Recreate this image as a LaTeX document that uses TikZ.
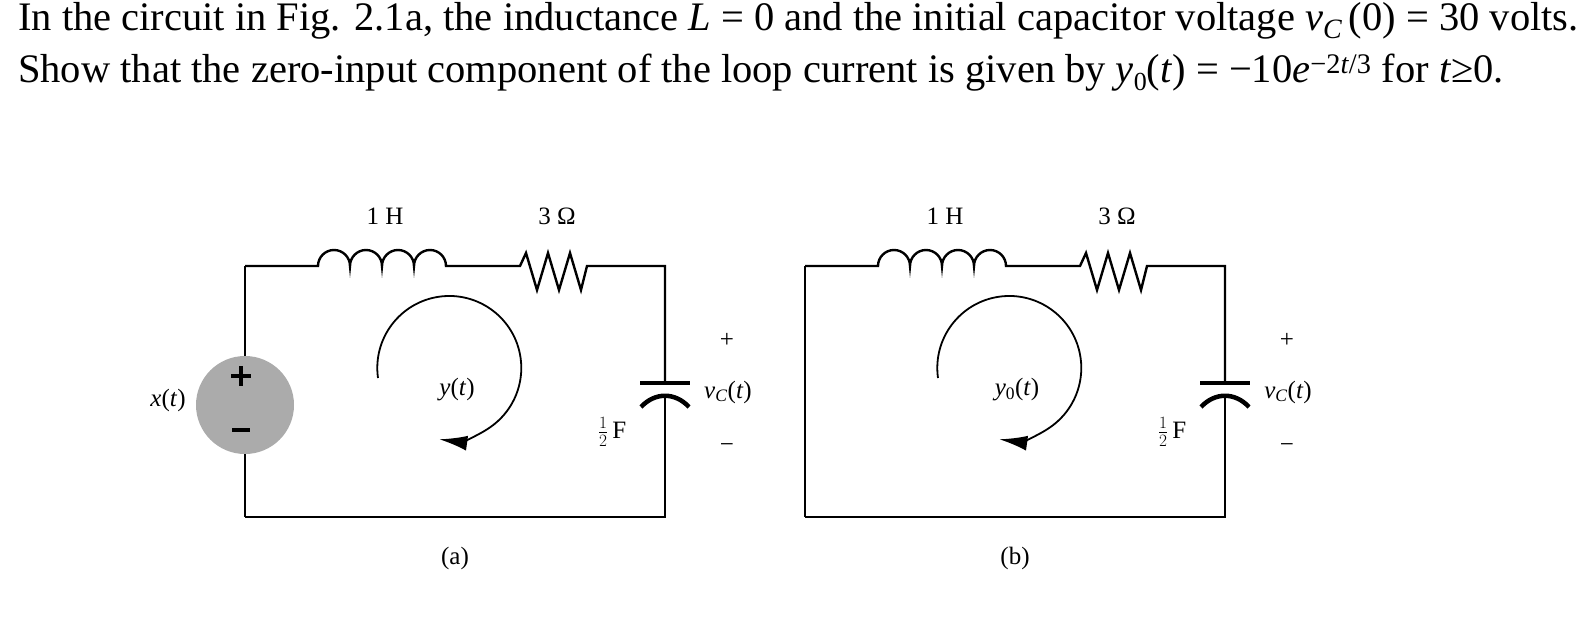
\documentclass[tikz,border=0pt]{standalone}
\usepackage{fontspec}
\setmainfont{Liberation Serif}
\usetikzlibrary{arrows.meta}
\begin{document}
\begin{tikzpicture}[x=1pt,y=-1pt,
  wire/.style={line width=2.4pt,line join=miter},
  lbl/.style={font=\fontsize{25}{29}\selectfont,inner sep=0pt},
  loop/.style={line width=1.8pt,-{Latex[length=28pt,width=15pt]}}]
\useasboundingbox (0,0) rectangle (1590,618);
\node[anchor=west,align=left,inner sep=0pt,font=\fontsize{40.5}{52}\selectfont] (title) at (18,47)
 {In the circuit in Fig. 2.1a, the inductance \textit{L} = 0 and the initial capacitor voltage \textit{v}\raisebox{-0.2em}{\fontsize{28}{30}\selectfont\textit{C}}\,(0) = 30 volts.\\
 Show that the zero-input component of the loop current is given by \textit{y}\raisebox{-0.2em}{\fontsize{26}{30}\selectfont 0}(\textit{t}) = −10\textit{e}\textsuperscript{−2\textit{t}/3} for \textit{t}≥0.};
\foreach \dx/\nm/\yl/\cap in {0/a/{\textit{y}(\textit{t})}/(a),560/b/{\textit{y}\textsubscript{0}(\textit{t})}/(b)}{
 \begin{scope}[xshift=\dx]
  \coordinate (\nm tl) at (245,266);
  \coordinate (\nm tr) at (665,266);
  \coordinate (\nm bl) at (245,517);
  \coordinate (\nm br) at (665,517);
  \coordinate (\nm ci) at (318,266);
  \coordinate (\nm ri) at (520,266);
  \coordinate (\nm ct) at (665,383);
  \coordinate (\nm cb) at (665,395);
  \draw[wire] (\nm tl) -- (\nm ci) arc(180:360:16) arc(180:360:16) arc(180:360:16) arc(180:360:16)
     -- (\nm ri) -- ++(6,-13) -- ++(11,37) -- ++(11,-37) -- ++(11,37) -- ++(11,-37) -- ++(11,37) -- ++(6,-24)
     -- (\nm tr) -- (\nm ct);
  \draw[wire] (\nm cb) -- (\nm br) -- (\nm bl);
  \draw[line width=4.5pt] ([xshift=-25]\nm ct) -- ([xshift=25]\nm ct);
  \draw[line width=4.5pt] ([xshift=-24,yshift=-12]\nm cb) .. controls ([xshift=-10,yshift=3]\nm cb) and ([xshift=10,yshift=3]\nm cb) .. ([xshift=24,yshift=-12]\nm cb);
  \node[lbl] (\nm L) at (385,216) {1 H};
  \node[lbl] (\nm R) at (557,216) {3 Ω};
  \node[lbl] (\nm p) at (727,340) {+};
  \node[lbl] (\nm m) at (727,448) {−};
  \node[lbl] (\nm v) at (728,392) {\textit{v}\textsubscript{\textit{C}}(\textit{t})};
  \node[lbl] (\nm F) at (612,432) {$\frac{1}{2}$\,F};
  \node[lbl] (\nm y) at (457,390) {\yl};
  \node[lbl] (\nm cap) at (455,558) {\cap};
  \draw[loop] (378,378) arc(172:458:72);
 \end{scope}}
\node[circle,fill=black!33,minimum size=98pt,inner sep=0pt] (src) at (245,405) {};
\draw[wire] (atl) -- (src.north);
\draw[wire] (src.south) -- (abl);
\draw[wire] (btl) -- (bbl);
\draw[line width=4pt] (231,376) -- (251,376) (241,366) -- (241,386);
\draw[line width=4pt] (232,430) -- (250,430);
\node[lbl] (x) at (168,400) {\textit{x}(\textit{t})};
\end{tikzpicture}
\end{document}
